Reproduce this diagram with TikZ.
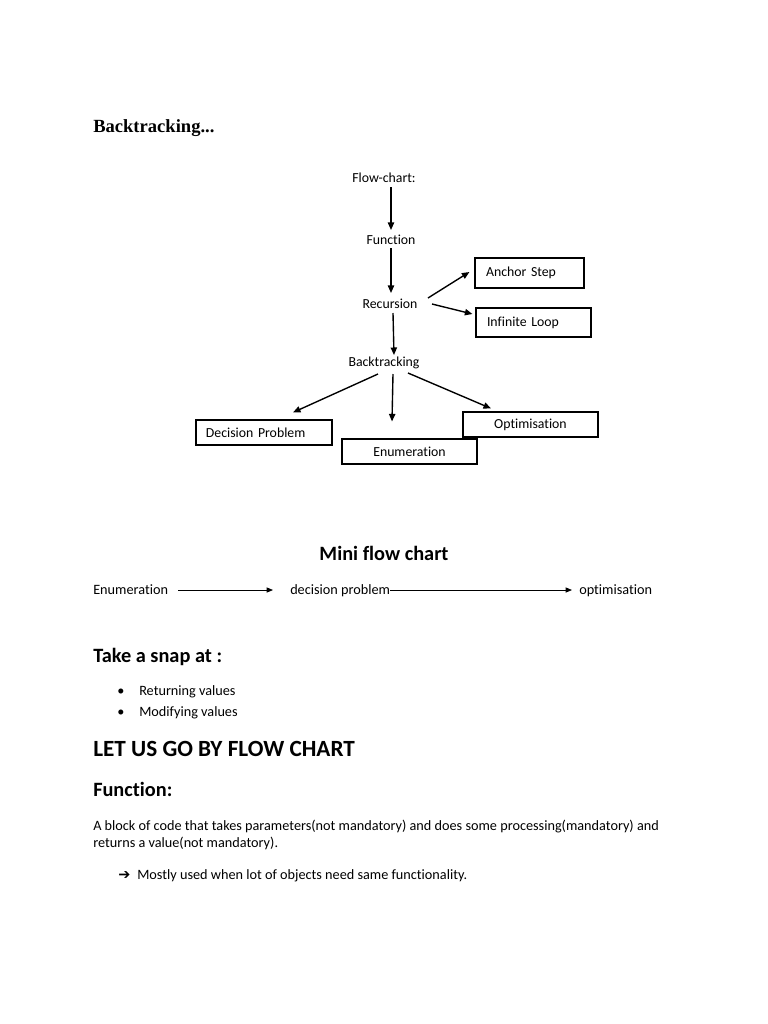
\documentclass[tikz,border=0pt]{standalone}
\usepackage{fontspec}
\setmainfont{Carlito}[Ligatures=NoCommon, RawFeature={-clig}]
\newfontfamily\headserif{Liberation Serif}
\newfontfamily\dejavu{DejaVu Sans}
\usetikzlibrary{arrows.meta,calc}
\tikzset{
  txt/.style={inner sep=0pt, font=\fontsize{11}{13}\selectfont},
  lbl/.style={txt, anchor=base},
  lft/.style={inner sep=0pt, anchor=base west, font=\fontsize{11.35}{13}\selectfont},
  hd/.style={inner sep=0pt, anchor=base west, font=\fontsize{16.2}{18}\selectfont\bfseries},
  box/.style={draw, line width=0.9pt, inner sep=0pt, font=\fontsize{11}{13}\selectfont},
  arr/.style={line width=1.1pt, -{Triangle[length=6pt,width=5pt]}},
  thin/.style={line width=0.6pt, -{Triangle[length=5pt,width=4pt]}}
}
\begin{document}
\begin{tikzpicture}[x=0.797pt,y=-0.797pt]
\useasboundingbox[fill=white] (0,0) rectangle (768,1024);

\node[inner sep=0pt, anchor=base west, font=\fontsize{14.8}{17}\selectfont\headserif\bfseries] (title) at (93,132) {Backtracking...};

% flow chart
\node[lbl] (flow) at (384,182) {Flow-chart:};
\node[lbl] (func) at (391,244) {Function};
\node[lbl] (rec) at (390,308) {Recursion};
\node[lbl] (bt) at (384,366) {Backtracking};

\node[box, minimum width=86.9pt, minimum height=23.9pt, text width=69.3pt, inner xsep=8.77pt, align=left] (anc) at (529.5,273) {Anchor Step};
\node[box, minimum width=91.7pt, minimum height=23.1pt, text width=74.1pt, inner xsep=8.77pt, align=left] (inf) at (533.5,322.5) {Infinite Loop};
\node[box, minimum width=108.4pt, minimum height=19.9pt, text width=92.5pt, inner xsep=7.97pt, align=left] (dec) at (264,432.5) {Decision Problem};
\node[box, minimum width=107.6pt, minimum height=19.9pt] (enum) at (409.5,451.5) {Enumeration};
\node[box, minimum width=107.6pt, minimum height=19.9pt] (opt) at (530.5,424.5) {Optimisation};

\draw[arr] ($(flow.base)+(7,5)$) -- ($(func.base)+(0,-14)$);
\draw[arr] ($(func.base)+(0,4)$) -- ($(rec.base)+(1,-15)$);
\draw[arr] ($(rec.base)+(3,5)$) -- ($(bt.base)+(10,-11)$);
\draw[arr] ($(rec.base)+(38,-10)$) -- ($(anc.west)+(-5,-1)$);
\draw[arr] ($(rec.base)+(42,-4)$) -- ($(inf.west)+(-3,-8.5)$);
\draw[arr] ($(bt.base)+(-6,8)$) -- ($(dec.north)+(29,-7)$);
\draw[arr] ($(bt.base)+(9,8)$) -- ($(enum.north)+(-17.5,-17)$);
\draw[arr] ($(bt.base)+(24,7)$) -- ($(opt.north)+(-39.5,-3)$);

% mini flow chart
\node[inner sep=0pt, anchor=base, font=\fontsize{16.2}{18}\selectfont\bfseries] (mini) at (384,560) {Mini flow chart};
\node[lft] (m1) at (93,594) {Enumeration};
\node[lft] (m2) at (290,594) {decision problem};
\node[lft] (m3) at (579,594) {optimisation};
\draw[thin] ($(m1.base east)+(10,-4)$) -- ($(m2.base west)+(-17,-4)$);
\draw[thin] ($(m2.base east)+(0,-4)$) -- ($(m3.base west)+(-7,-4)$);

% snap
\node[hd] (snap) at (93,662) {Take a snap at :};
\node[lft] (b1) at (117,695) {•};
\node[lft] (r1) at (139,695) {Returning values};
\node[lft] (b2) at (117,716) {•};
\node[lft] (r2) at (139,716) {Modifying values};

\node[inner sep=0pt, anchor=base west, font=\fontsize{18.5}{20}\selectfont\bfseries] (let) at (93,756) {LET US GO BY FLOW CHART};
\node[hd] (fn) at (93,796) {Function:};
\node[lft] (p1) at (93,830) {A block of code that takes parameters(not mandatory) and does some processing(mandatory) and};
\node[lft] (p2) at (93,847) {returns a value(not mandatory).};
\node[lft] (ar) at (118,879) {\dejavu\fontsize{11.5}{12}\selectfont ➔};
\node[lft] (p3) at (137,879) {Mostly used when lot of objects need same functionality.};
\end{tikzpicture}
\end{document}
